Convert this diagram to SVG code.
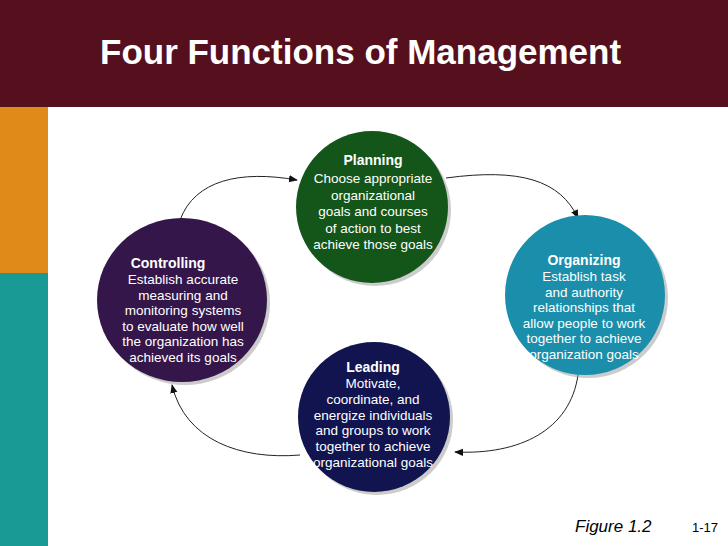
<svg xmlns="http://www.w3.org/2000/svg" width="728" height="546" viewBox="0 0 728 546">
<style>
text{font-family:"Liberation Sans",Arial,sans-serif;fill:#fff;text-anchor:middle;font-size:13.5px}
.h{font-weight:bold;font-size:14px}
.c{fill:none;stroke:#222;stroke-width:1}
.s{fill:#999;opacity:0.5}
</style>
<defs>
<marker id="a" viewBox="0 0 10 10" refX="9" refY="5" markerWidth="9" markerHeight="9" orient="auto" markerUnits="userSpaceOnUse"><path d="M0,1 L10,5 L0,9 Z" fill="#111"/></marker>
</defs>
<rect width="728" height="546" fill="#fff"/>
<rect width="728" height="107" fill="#560f1c"/>
<rect y="107" width="48" height="166" fill="#e08a1a"/>
<rect y="273" width="48" height="273" fill="#1a9a94"/>
<text x="100" y="64" style="font-size:35px;font-weight:bold;text-anchor:start">Four Functions of Management</text>
<g id="connectors">
<path class="c" d="M180,220 C195,180 240,170 297,180" marker-end="url(#a)"/>
<path class="c" d="M446,178 C520,168 560,180 578,218" marker-end="url(#a)"/>
<path class="c" d="M578,375 C570,430 520,455 455,452" marker-end="url(#a)"/>
<path class="c" d="M300,455 C240,460 185,440 172,385" marker-end="url(#a)"/>
</g>
<g id="planning">
<ellipse class="s" cx="375" cy="210" rx="76" ry="76"/>
<ellipse cx="372" cy="207" rx="76" ry="76" fill="#14561a"/>
<text x="373" y="165" class="h">Planning</text>
<text x="373" y="183">Choose appropriate</text>
<text x="373" y="199.5">organizational</text>
<text x="373" y="216">goals and courses</text>
<text x="373" y="232.5">of action to best</text>
<text x="373" y="249">achieve those goals</text>
</g>
<g id="organizing">
<ellipse class="s" cx="588" cy="298" rx="80" ry="80"/>
<ellipse cx="585" cy="295" rx="80" ry="80" fill="#1a8eab"/>
<text x="584" y="265" class="h">Organizing</text>
<text x="584" y="281">Establish task</text>
<text x="584" y="296.5">and authority</text>
<text x="584" y="312">relationships that</text>
<text x="584" y="327.5">allow people to work</text>
<text x="584" y="343">together to achieve</text>
<text x="584" y="358.5">organization goals</text>
</g>
<g id="controlling">
<ellipse class="s" cx="185" cy="303" rx="85" ry="82"/>
<ellipse cx="182" cy="300" rx="85" ry="82" fill="#35164a"/>
<text x="168" y="268" class="h">Controlling</text>
<text x="183" y="284">Establish accurate</text>
<text x="183" y="299.5">measuring and</text>
<text x="183" y="315">monitoring systems</text>
<text x="183" y="330.5">to evaluate how well</text>
<text x="183" y="346">the organization has</text>
<text x="183" y="361.5">achieved its goals</text>
</g>
<g id="leading">
<ellipse class="s" cx="377" cy="420" rx="76" ry="75"/>
<ellipse cx="374" cy="417" rx="76" ry="75" fill="#121450"/>
<text x="373" y="372" class="h">Leading</text>
<text x="373" y="388">Motivate,</text>
<text x="373" y="403.8">coordinate, and</text>
<text x="373" y="419.6">energize individuals</text>
<text x="373" y="435.4">and groups to work</text>
<text x="373" y="451.2">together to achieve</text>
<text x="373" y="467">organizational goals</text>
</g>
<text x="575" y="532" style="fill:#000;font-style:italic;font-size:17px;text-anchor:start">Figure 1.2</text>
<text x="705" y="532" style="fill:#000;font-size:13px">1-17</text>
</svg>
